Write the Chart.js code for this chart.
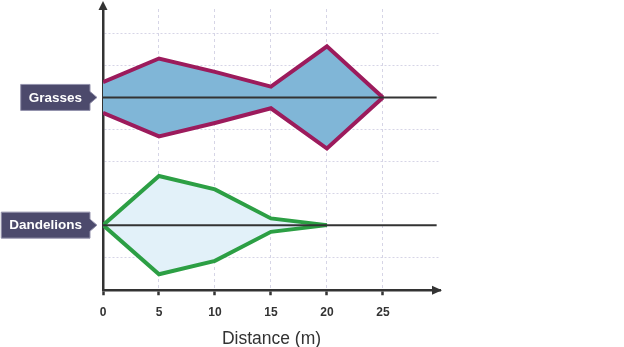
<!DOCTYPE html>
<html>
<head>
  <meta charset="UTF-8">
  <title>Kite diagram - grasses and dandelions</title>
  <script src="https://cdn.jsdelivr.net/npm/chart.js"></script>
  <style>
    body {
      margin: 0;
      padding: 0;
      background-color: #ffffff;
    }

    .chart-box {
      position: relative;
      width: 624px;
      height: 347px;
    }
  </style>
</head>
<body>

<div class="chart-box">
  <canvas id="kiteChart"></canvas>
</div>

<script>
  // distance along the transect (m)
  const distances = [0, 5, 10, 15, 20, 25];
  const xTicks = [0, 5, 10, 15, 20, 25];

  // half-width of each kite at each distance (in grid rows)
  const grassWidths = [0.48, 1.22, 0.8, 0.34, 1.6, 0];
  const dandelionWidths = [0, 1.54, 1.12, 0.21, 0];

  // centre line of each kite, and the dotted rows of the grid
  const species = ['Grasses', 'Dandelions'];
  const speciesRows = [6, 2];
  const gridRows = [1, 3, 4, 5, 7, 8];

  const axisColor = '#333333';
  const gridColor = '#d6d5e6';

  function kiteEdge(widths, centre, sign) {
    return widths.map((w, i) => ({ x: distances[i], y: centre + sign * w }));
  }

  function edgeDataset(widths, centre, sign, stroke, fill) {
    return {
      data: kiteEdge(widths, centre, sign),
      borderColor: stroke,
      borderWidth: 4,
      borderJoinStyle: 'miter',
      backgroundColor: fill,
      fill: sign > 0 ? '+1' : false,
      pointRadius: 0,
      tension: 0
    };
  }

  function centreLine(centre) {
    return {
      data: [{ x: 0, y: centre }, { x: 29.8, y: centre }],
      borderColor: axisColor,
      borderWidth: 2,
      pointRadius: 0,
      fill: false
    };
  }

  // arrow heads on the axes and the species tags on the left
  const decorations = {
    id: 'decorations',
    afterDraw(chart) {
      const { ctx, chartArea, scales } = chart;
      const x0 = scales.x.getPixelForValue(0);
      const yBase = chartArea.bottom;

      ctx.save();
      ctx.fillStyle = axisColor;
      // y arrow
      ctx.beginPath();
      ctx.moveTo(x0, 1);
      ctx.lineTo(x0 + 4.5, 10);
      ctx.lineTo(x0 - 4.5, 10);
      ctx.closePath();
      ctx.fill();
      // x arrow
      ctx.beginPath();
      ctx.moveTo(442, yBase);
      ctx.lineTo(432, yBase - 4.5);
      ctx.lineTo(432, yBase + 4.5);
      ctx.closePath();
      ctx.fill();

      // tags
      ctx.font = 'bold 13.5px Arial, "Liberation Sans", sans-serif';
      ctx.textAlign = 'center';
      ctx.textBaseline = 'middle';
      species.forEach((name, i) => {
        const cy = scales.y.getPixelForValue(speciesRows[i]);
        const right = x0 - 13;
        const w = ctx.measureText(name).width + 16;
        const left = Math.max(0, right - w);
        ctx.beginPath();
        ctx.moveTo(left, cy - 13);
        ctx.lineTo(right, cy - 13);
        ctx.lineTo(right, cy - 6);
        ctx.lineTo(right + 7, cy);
        ctx.lineTo(right, cy + 6);
        ctx.lineTo(right, cy + 13);
        ctx.lineTo(left, cy + 13);
        ctx.closePath();
        ctx.fillStyle = '#4c4a6c';
        ctx.fill();
        ctx.strokeStyle = '#9593ad';
        ctx.lineWidth = 1;
        ctx.stroke();
        ctx.fillStyle = '#ffffff';
        ctx.fillText(name, (left + right) / 2, cy + 0.5);
      });
      ctx.restore();
    }
  };

  const ctx = document.getElementById('kiteChart').getContext('2d');
  new Chart(ctx, {
    type: 'line',
    data: {
      datasets: [
        centreLine(speciesRows[0]),
        centreLine(speciesRows[1]),
        edgeDataset(grassWidths, speciesRows[0], 1, '#9c1b5c', '#80b6d7'),
        edgeDataset(grassWidths, speciesRows[0], -1, '#9c1b5c', '#80b6d7'),
        edgeDataset(dandelionWidths, speciesRows[1], 1, '#2c9f44', '#e2f1f9'),
        edgeDataset(dandelionWidths, speciesRows[1], -1, '#2c9f44', '#e2f1f9')
      ]
    },
    options: {
      responsive: true,
      maintainAspectRatio: false,
      animation: false,
      layout: {
        padding: { left: 103, right: 184, top: 9, bottom: 0 }
      },
      plugins: {
        legend: { display: false },
        tooltip: { enabled: false },
        filler: { drawTime: 'beforeDatasetsDraw' }
      },
      scales: {
        x: {
          type: 'linear',
          min: 0,
          max: 30.1,
          afterBuildTicks: (scale) => {
            scale.ticks = xTicks.map(v => ({ value: v }));
          },
          grid: {
            color: (c) => (c.tick && c.tick.value === 0 ? 'rgba(0,0,0,0)' : gridColor),
            lineWidth: 1,
            drawTicks: true,
            tickLength: 5,
            tickColor: axisColor,
            tickWidth: 2.5,
            tickBorderDash: []
          },
          border: {
            color: axisColor,
            width: 2.5,
            dash: [3, 3]
          },
          ticks: {
            padding: 10,
            color: axisColor,
            font: { family: 'Arial, "Liberation Sans", sans-serif', size: 12, weight: 'bold' }
          },
          title: {
            display: true,
            text: 'Distance (m)',
            color: axisColor,
            padding: { top: 1.6, bottom: 0 },
            font: { family: 'Arial, "Liberation Sans", sans-serif', size: 17.5, lineHeight: 0.9 }
          }
        },
        y: {
          type: 'linear',
          min: -0.04,
          max: 8.77,
          afterBuildTicks: (scale) => {
            scale.ticks = gridRows.map(v => ({ value: v }));
          },
          grid: {
            color: gridColor,
            lineWidth: 1,
            drawTicks: false
          },
          border: {
            color: axisColor,
            width: 2.5,
            dash: [2, 2]
          },
          ticks: { display: false }
        }
      }
    },
    plugins: [decorations]
  });
</script>

</body>
</html>
